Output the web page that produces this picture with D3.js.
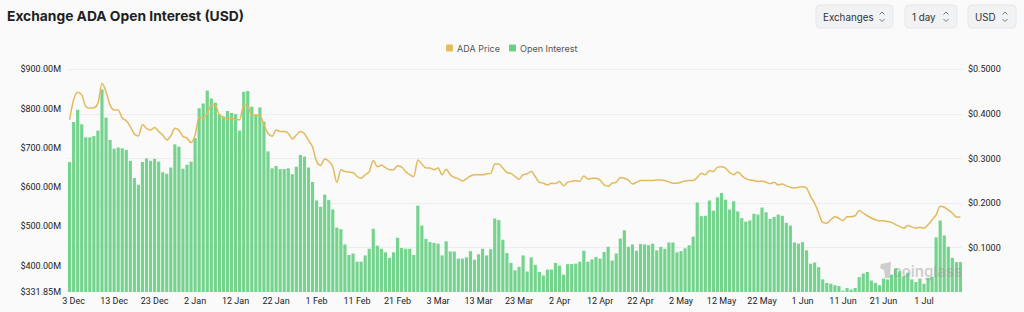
<!DOCTYPE html>
<html>
<head>
<meta charset="utf-8">
<script src="https://cdn.jsdelivr.net/npm/d3@7"></script>
<style>
  html, body { margin: 0; padding: 0; background: #fafafa; }
  svg { display: block; font-family: Inter, "Noto Sans", sans-serif; }
</style>
</head>
<body>
<div id="chart"></div>
<script>
  // open interest in $M, one bar per day from 2 Dec
  var openInterest = [
    663,765,796,759,726,726,729,743,848,776,719,697,700,698,694,666,622,605,663,672,
    666,671,664,637,633,649,708,702,646,656,664,724,800,812,845,825,814,785,779,793,
    788,785,743,842,844,804,783,802,766,690,647,653,645,645,647,632,651,681,677,649,
    612,565,549,580,566,542,496,492,453,426,430,409,409,425,442,493,450,442,433,419,
    433,470,444,442,442,426,552,501,467,459,457,455,425,461,435,435,417,417,420,436,
    414,428,442,425,441,519,515,465,431,406,387,396,425,384,420,401,383,374,389,389,
    406,399,376,403,403,404,409,437,409,415,421,417,434,447,412,430,468,489,447,453,
    437,454,453,451,455,438,447,442,458,458,433,436,443,451,473,560,525,526,565,539,
    573,584,567,542,563,537,520,511,514,531,529,547,535,518,523,529,526,508,501,458,
    455,459,438,404,407,395,364,355,353,349,347,335,342,338,342,370,379,383,361,355,
    349,366,364,376,392,385,372,381,364,357,366,353,368,370,471,514,476,447,419,408,
    408
  ];

  // ADA price in USD, same days
  var adaPrice = [
    .386,.431,.448,.442,.416,.412,.413,.423,.468,.449,.419,.408,.408,.390,.384,.371,.354,.350,.375,.367,
    .363,.369,.360,.352,.341,.350,.367,.363,.349,.345,.335,.352,.392,.390,.401,.419,.418,.397,.392,.388,
    .390,.387,.386,.419,.416,.397,.397,.396,.375,.356,.349,.363,.360,.360,.356,.343,.352,.360,.355,.340,
    .325,.293,.284,.298,.293,.281,.246,.274,.270,.269,.268,.259,.255,.263,.270,.295,.281,.284,.279,.274,
    .274,.283,.280,.270,.263,.259,.296,.287,.278,.278,.274,.278,.263,.275,.263,.257,.254,.249,.254,.260,
    .263,.263,.263,.265,.266,.287,.287,.278,.268,.266,.259,.253,.263,.265,.270,.259,.246,.244,.240,.244,
    .243,.248,.238,.246,.248,.250,.248,.260,.253,.255,.255,.251,.240,.237,.244,.246,.257,.255,.251,.242,
    .246,.250,.250,.250,.250,.251,.251,.250,.247,.244,.244,.246,.249,.250,.250,.257,.266,.263,.272,.270,
    .280,.281,.278,.268,.263,.269,.261,.254,.251,.250,.248,.249,.246,.243,.246,.240,.242,.238,.235,.233,
    .235,.236,.233,.214,.199,.177,.156,.154,.162,.169,.165,.160,.169,.169,.171,.183,.177,.171,.166,.162,
    .160,.160,.158,.156,.151,.147,.143,.149,.146,.143,.145,.143,.151,.162,.173,.192,.190,.184,.177,.168,
    .168
  ];

  var leftTicks = [400, 500, 600, 700, 800, 900];
  var rightTicks = [0.1, 0.2, 0.3, 0.4, 0.5];
  var oiMin = 331.85;
  var buttons = ["Exchanges", "1 day", "USD"];

  var width = 1024, height = 312,
      margin = {top: 69, right: 62, bottom: 20, left: 68};

  var days = d3.range(openInterest.length).map(function(i) {
    return d3.timeDay.offset(new Date(2022, 11, 2), i);
  });
  var fmtDay = d3.timeFormat("%-d %b");

  var svg = d3.select("#chart").append("svg")
      .attr("width", width)
      .attr("height", height);

  svg.append("rect").attr("width", width).attr("height", height).attr("fill", "#fafafa");

  var x = d3.scaleBand()
      .domain(d3.range(days.length))
      .range([margin.left, width - margin.right])
      .paddingInner(0.22);

  var yOI = d3.scaleLinear()
      .domain([oiMin, 900])
      .range([height - margin.bottom, margin.top]);

  var yPrice = d3.scaleLinear()
      .domain([0, 0.5])
      .range([height - margin.bottom, margin.top]);

  // title
  svg.append("text")
    .attr("x", 7).attr("y", 21)
    .attr("font-size", 13.8).attr("font-weight", 700)
    .attr("fill", "#1f1f1f")
    .text("Exchange ADA Open Interest (USD)");

  // selector buttons
  var btnX = [816, 905, 968], btnW = [77, 52, 48];
  buttons.forEach(function(b, i) {
    var g = svg.append("g").attr("transform", "translate(" + btnX[i] + ",5)");
    g.append("rect").attr("width", btnW[i]).attr("height", 23).attr("rx", 4)
      .attr("fill", "#f1f2f4").attr("stroke", "#e6e7ea");
    g.append("text").attr("x", 7).attr("y", 15.5)
      .attr("font-size", 9.8).attr("fill", "#333").text(b);
    var cx = btnW[i] - 11;
    g.append("path")
      .attr("d", "M" + (cx - 2.5) + ",9.5 L" + cx + ",7 L" + (cx + 2.5) + ",9.5 M" + (cx - 2.5) + ",14 L" + cx + ",16.5 L" + (cx + 2.5) + ",14")
      .attr("fill", "none").attr("stroke", "#666").attr("stroke-width", 0.9);
  });

  // legend
  var legend = svg.append("g").attr("font-size", 9).attr("fill", "#555");
  [["ADA Price", "#e5bd60", 446], ["Open Interest", "#6ccf86", 509]].forEach(function(l) {
    legend.append("rect").attr("x", l[2]).attr("y", 44.5).attr("width", 7).attr("height", 7)
      .attr("rx", 1).attr("fill", l[1]);
    legend.append("text").attr("x", l[2] + 11).attr("y", 51.5).text(l[0]);
  });

  // grid (follows right axis)
  svg.append("g").selectAll("line")
    .data(rightTicks)
    .join("line")
    .attr("x1", margin.left).attr("x2", width - margin.right)
    .attr("y1", function(d) { return Math.round(yPrice(d)) + 0.5; })
    .attr("y2", function(d) { return Math.round(yPrice(d)) + 0.5; })
    .attr("stroke", "#ededed");

  // bars
  svg.append("g").selectAll("rect")
    .data(openInterest)
    .join("rect")
    .attr("x", function(d, i) { return x(i); })
    .attr("width", x.bandwidth())
    .attr("y", function(d) { return yOI(d); })
    .attr("height", function(d) { return yOI(oiMin) - yOI(d); })
    .attr("fill", "#74d38d");

  // watermark
  var wm = svg.append("g").attr("opacity", 0.45);
  wm.append("text").attr("x", 893).attr("y", 277)
    .attr("font-size", 15).attr("font-weight", 600).attr("fill", "#9a9a9a").text("coinglass");
  wm.append("path")
    .attr("d", "M881,264 L891,262 L890,278 L885,278 L884,270 L880,268 Z")
    .attr("fill", "#9a9a9a");

  // price line
  var line = d3.line()
    .x(function(d, i) { return x(i) + x.bandwidth() / 2; })
    .y(function(d) { return yPrice(d); })
    .curve(d3.curveMonotoneX);

  svg.append("path")
    .datum(adaPrice)
    .attr("d", line)
    .attr("fill", "none")
    .attr("stroke", "#e3b95c")
    .attr("stroke-width", 1.5);

  // left axis
  var yLeft = svg.append("g")
    .attr("transform", "translate(" + (margin.left - 7) + ",0)")
    .call(d3.axisLeft(yOI).tickValues(leftTicks.concat([oiMin])).tickSize(0)
      .tickFormat(function(d) { return "$" + d3.format(".2f")(d) + "M"; }));
  yLeft.select(".domain").remove();
  yLeft.selectAll("text").attr("font-size", 9).attr("fill", "#222")
    .attr("font-family", "Roboto, sans-serif").attr("x", 0);

  // right axis
  var yRight = svg.append("g")
    .attr("transform", "translate(" + (width - margin.right + 6) + ",0)")
    .call(d3.axisRight(yPrice).tickValues(rightTicks).tickSize(0)
      .tickFormat(function(d) { return "$" + d3.format(".4f")(d); }));
  yRight.select(".domain").remove();
  yRight.selectAll("text").attr("font-size", 9).attr("fill", "#222")
    .attr("font-family", "Roboto, sans-serif").attr("x", 0);

  // bottom axis
  var tickIdx = d3.range(1, days.length, 10);
  var xAxis = svg.append("g")
    .attr("transform", "translate(0," + (height - margin.bottom) + ")")
    .call(d3.axisBottom(x).tickValues(tickIdx).tickSize(0)
      .tickFormat(function(i) { return fmtDay(days[i]); }));
  xAxis.select(".domain").remove();
  xAxis.selectAll("text").attr("font-size", 9).attr("fill", "#222")
    .attr("font-family", "Roboto, sans-serif").attr("dy", "0.95em").attr("y", 3);
</script>
</body>
</html>
